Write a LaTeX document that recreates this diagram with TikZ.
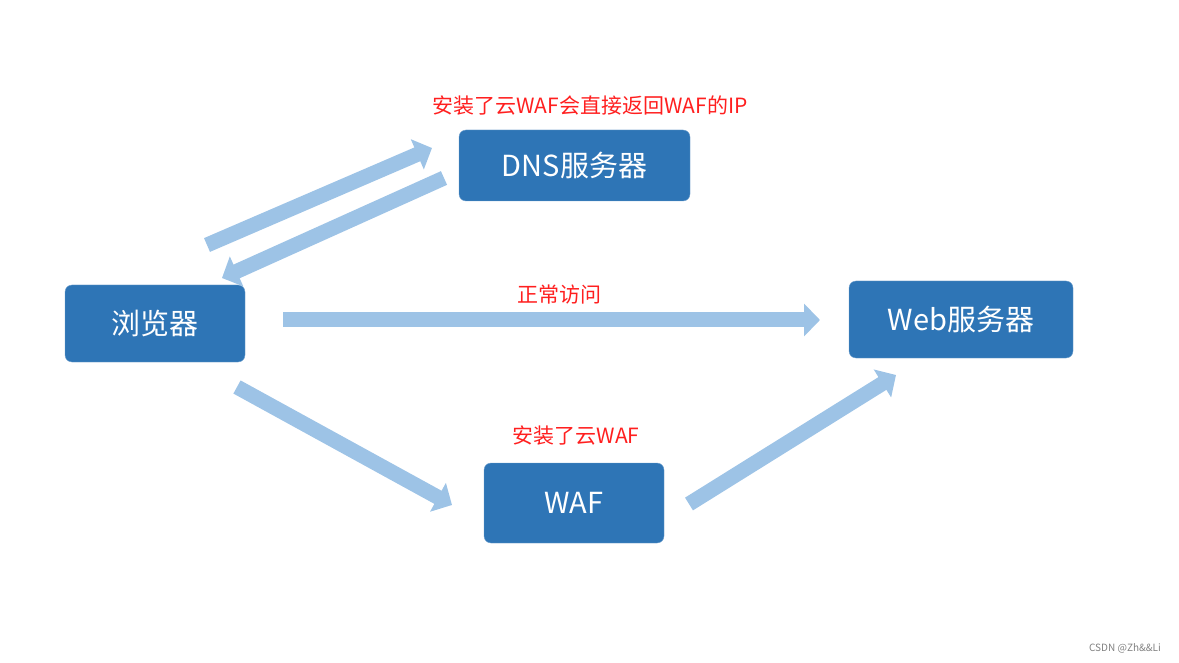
\documentclass[tikz,border=0pt]{standalone}
\usepackage{fontspec}
\setmainfont{Noto Sans CJK SC}
\usetikzlibrary{arrows.meta}
\definecolor{boxblue}{HTML}{2E75B6}
\definecolor{arrblue}{HTML}{9DC3E6}
\definecolor{lblred}{HTML}{FF1F1F}
\begin{document}
\begin{tikzpicture}[x=1pt,y=-1pt,
  box/.style={fill=boxblue,draw=boxblue!70!white,rounded corners=7pt,text=white,font=\fontsize{29}{32}\selectfont,inner sep=0pt},
  arr/.style={draw=arrblue,line width=15pt,-{Triangle[length=16pt,width=32pt]}},
  lbl/.style={text=lblred,font=\fontsize{21}{24}\selectfont}]
\useasboundingbox (0,0) rectangle (1179,663);
\node[box,minimum width=231pt,minimum height=71pt] (dns) at (574.5,165.5) {DNS服务器};
\node[box,minimum width=180pt,minimum height=77pt] (br) at (155,323.5) {浏览器};
\node[box,minimum width=224pt,minimum height=77pt] (web) at (961,319.5) {Web服务器};
\node[box,minimum width=180pt,minimum height=80pt] (waf) at (574,503) {WAF};
\coordinate (a1) at (207,245); \coordinate (a2) at (432,148);
\coordinate (b1) at (444,178); \coordinate (b2) at (222,278);
\coordinate (c1) at (283,320); \coordinate (c2) at (820,320);
\coordinate (d1) at (237,387); \coordinate (d2) at (452,505);
\coordinate (e1) at (689,504); \coordinate (e2) at (896,375);
\draw[arr] (a1) -- (a2);
\draw[arr] (b1) -- (b2);
\draw[arr] (c1) -- (c2);
\draw[arr] (d1) -- (d2);
\draw[arr] (e1) -- (e2);
\node[lbl] (l1) at (590,106) {安装了云WAF会直接返回WAF的IP};
\node[lbl] (l2) at (559,295) {正常访问};
\node[lbl] (l3) at (576,436) {安装了云WAF};
\node[text=gray,font=\fontsize{10}{12}\selectfont] (wm) at (1125,648) {CSDN @Zh\&\&Li};
\end{tikzpicture}
\end{document}
